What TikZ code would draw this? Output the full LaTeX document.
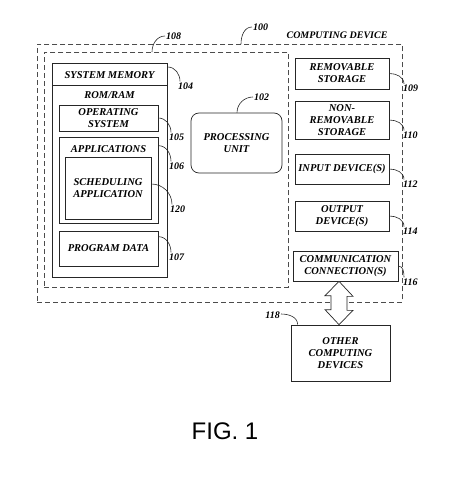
\documentclass[tikz,border=0pt]{standalone}
\usepackage{fontspec}
\setmainfont{Liberation Serif}
\newfontfamily\figfont{Liberation Sans}
\newcommand{\boxfont}{\fontsize{10.5}{12}\selectfont\bfseries\itshape}
\newcommand{\refnumfont}{\fontsize{10}{12}\selectfont\bfseries\itshape}
\tikzset{
    box/.style={draw=black!85, line width=0.7pt, align=center, inner sep=1pt, font=\boxfont},
    dashbox/.style={draw=black!70, line width=0.7pt, dash pattern=on 5pt off 3pt, inner sep=0pt},
    leader/.style={draw=black!85, line width=0.6pt},
    refnum/.style={font=\refnumfont, inner sep=1pt},
    arrowbody/.style={draw=black!85, line width=0.7pt, fill=white, line join=miter}
}
\begin{document}
\begin{tikzpicture}[x=1pt, y=-1pt]
    \useasboundingbox (0,0) rectangle (474,481);
    % computing device and its core
    \node[dashbox, minimum width=365, minimum height=258, anchor=north west] (device) at (37,44) {};
    \node[dashbox, minimum width=244, minimum height=235, anchor=north west] (core) at (44,52) {};
    \node[font=\boxfont\fontsize{10}{12}\selectfont] (devname) at (337,35) {COMPUTING DEVICE};
    \node[refnum, anchor=west] (n100) at (252,27) {100};
    \draw[leader] ([xshift=204]device.north west) to[out=90,in=180] (n100.west);
    \node[refnum, anchor=west] (n108) at (165,36) {108};
    \draw[leader] ([xshift=108]core.north west) to[out=90,in=180] (n108.west);

    % system memory
    \node[box, minimum width=115, minimum height=214, anchor=north west] (sysmem) at (52,63) {};
    \draw[line width=0.7pt, draw=black!85] ([yshift=-22]sysmem.north west) -- ([yshift=-22]sysmem.north east);
    \node[font=\boxfont] (smtitle) at (109.5,75) {SYSTEM MEMORY};
    \node[font=\boxfont] (romram) at (109.5,95) {ROM/RAM};
    \node[box, minimum width=99, minimum height=26] (os) at (108.5,118) {OPERATING\\SYSTEM};
    \node[box, minimum width=99, minimum height=86] (apps) at (108.5,180) {};
    \node[font=\boxfont] (appstitle) at (108.5,149) {APPLICATIONS};
    \node[box, minimum width=86, minimum height=62] (sched) at (108,188) {SCHEDULING\\APPLICATION};
    \node[box, minimum width=99, minimum height=35] (pdata) at (108.5,248.5) {PROGRAM DATA};

    \node[refnum, anchor=west] (n104) at (177,86) {104};
    \node[refnum, anchor=west] (n105) at (168,137) {105};
    \node[refnum, anchor=west] (n106) at (168,166) {106};
    \node[refnum, anchor=west] (n120) at (169,209) {120};
    \node[refnum, anchor=west] (n107) at (168,257) {107};
    \draw[leader] ([yshift=-4]sysmem.north east) to[out=0,in=90] ([xshift=3]n104.north west);
    \draw[leader] (os.east) to[out=0,in=90] ([xshift=3]n105.north west);
    \draw[leader] ([yshift=-9]apps.north east) to[out=0,in=90] ([xshift=3]n106.north west);
    \draw[leader] ([yshift=4]sched.east) to[out=0,in=90] ([xshift=3]n120.north west);
    \draw[leader] ([yshift=-6]pdata.north east) to[out=0,in=90] ([xshift=3]n107.north west);

    % processing unit
    \node[box, rounded corners=8pt, minimum width=91, minimum height=60] (proc) at (236.5,143) {PROCESSING\\UNIT};
    \node[refnum, anchor=west] (n102) at (253,97) {102};
    \draw[leader] ([xshift=0.5]proc.north) to[out=90,in=180] (n102.west);

    % storage and devices
    \foreach \nm/\cy/\bh/\lbl/\rn in {
        rem/73.5/31/{REMOVABLE\\STORAGE}/109,
        nonrem/120/38/{NON-\\REMOVABLE\\STORAGE}/110,
        inp/169/30/{INPUT DEVICE(S)}/112,
        outp/216/30/{OUTPUT\\DEVICE(S)}/114
    } {
        \node[box, minimum width=94, minimum height=\bh] (\nm) at (342,\cy) {\lbl};
        \node[refnum, anchor=west] (n\rn) at (402,\cy+15) {\rn};
        \draw[leader] (\nm.east) to[out=0,in=90] ([xshift=2]n\rn.north west);
    }
    \node[box, minimum width=105, minimum height=30] (comm) at (345.5,266) {COMMUNICATION\\CONNECTION(S)};
    \node[refnum, anchor=west] (n116) at (402,282) {116};
    \draw[leader] (comm.east) to[out=0,in=90] ([xshift=2]n116.north west);

    % other computing devices
    \node[box, minimum width=99, minimum height=56] (other) at (340.5,353) {OTHER\\COMPUTING\\DEVICES};
    \node[refnum, anchor=east] (n118) at (281,315) {118};
    \draw[leader] ([yshift=1]n118.east) to[out=0,in=90] ([xshift=7]other.north west);

    \coordinate (tiptop) at ([xshift=-6.5]comm.south);
    \coordinate (tipbot) at ([xshift=-1.5]other.north);
    \draw[arrowbody] (tiptop) -- ++(14,15) -- ++(-6,0) -- ++(0,14) -- ++(6,0) -- (tipbot)
        -- ++(-14,-15) -- ++(6,0) -- ++(0,-14) -- ++(-6,0) -- cycle;

    \node[font=\figfont\fontsize{24}{28}\selectfont] (fig) at (225,431) {FIG. 1};
\end{tikzpicture}
\end{document}
